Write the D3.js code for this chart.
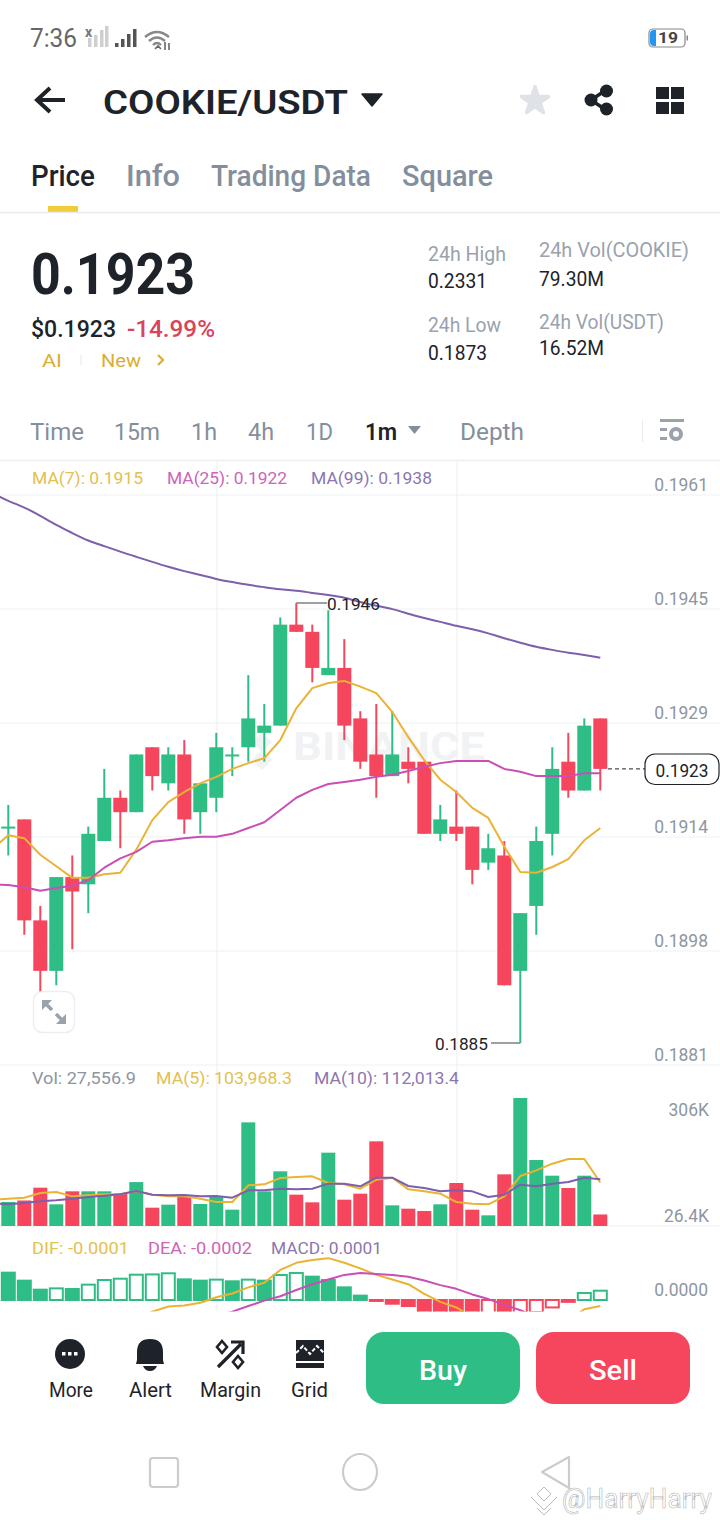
<!DOCTYPE html>
<html>
<head>
<meta charset="utf-8">
<script src="https://cdn.jsdelivr.net/npm/d3@7"></script>
<style>
  html,body{margin:0;padding:0;background:#fff;}
  svg{display:block;}
</style>
</head>
<body>
<div id="app"></div>
<script>
// candles, one minute each, oldest first
const opens  = [.1915,.1916,.1902,.1895,.1908,.1907,.1913,.1919,.1917,.1926,.1921,.1925,.1917,.1919,.1925,.1926,.1928,.1929,.1943,.1942,.1936,.1937,.1930,.1925,.1922,.1924,.1924,.1914,.1915,.1915,.1910,.1911,.1895,.1904,.1914,.1924,.1920,.1930];
const highs  = [.1918,.1916,.1904,.1908,.1911,.1915,.1923,.1920,.1925,.1926,.1926,.1927,.1921,.1928,.1926,.1936,.1932,.1944,.1946,.1943,.1945,.1941,.1931,.1932,.1931,.1926,.1924,.1918,.1920,.1915,.1914,.1913,.1903,.1915,.1926,.1928,.1930,.1930];
const lows   = [.1911,.1900,.1892,.1893,.1898,.1903,.1913,.1912,.1917,.1920,.1920,.1914,.1914,.1917,.1922,.1924,.1924,.1929,.1942,.1935,.1936,.1927,.1923,.1919,.1922,.1921,.1914,.1913,.1913,.1907,.1909,.1893,.1885,.1900,.1911,.1919,.1920,.1920];
const closes = [.1915,.1902,.1895,.1908,.1906,.1914,.1919,.1917,.1925,.1922,.1925,.1916,.1921,.1926,.1925,.1930,.1929,.1943,.1942,.1937,.1937,.1929,.1924,.1922,.1925,.1923,.1914,.1916,.1914,.1909,.1912,.1893,.1903,.1913,.1923,.1920,.1929,.1923];

// moving averages start one candle left of the screen
const ma7  = [.19119,.19138,.19134,.19111,.19095,.19079,.19079,.19084,.19086,.19118,.19159,.19184,.19198,.19210,.19219,.19230,.19238,.19245,.19270,.19314,.19342,.19349,.19352,.19344,.19335,.19309,.19274,.19242,.19215,.19198,.19176,.19162,.19122,.19087,.19086,.19094,.19105,.19131,.19148];
const ma25 = [.19070,.19069,.19066,.19061,.19065,.19068,.19076,.19093,.19106,.19115,.19129,.19131,.19134,.19136,.19136,.19140,.19148,.19156,.19173,.19190,.19201,.19209,.19212,.19215,.19219,.19222,.19227,.19233,.19238,.19241,.19241,.19241,.19230,.19226,.19220,.19220,.19220,.19224,.19224];
const ma99 = [.19613,.19601,.19593,.19581,.19568,.19557,.19546,.19539,.19531,.19524,.19517,.19510,.19504,.19499,.19493,.19489,.19485,.19482,.19479,.19477,.19474,.19471,.19468,.19461,.19456,.19452,.19445,.19439,.19434,.19428,.19424,.19418,.19411,.19405,.19399,.19395,.19391,.19388,.19384];

const volumes = [57400,61000,91600,51800,82900,82900,82900,77300,105000,43800,51000,69300,52600,69300,39000,247800,82900,130700,74900,56600,175300,62900,77300,202400,49400,41400,35900,51800,102800,39000,25500,123500,306000,157700,120300,90800,120300,27556.9];
const volMa5  = [63700,65300,67700,78900,81300,70900,73300,75700,75700,83700,74900,70900,70900,65300,57400,57400,97200,99600,114700,117100,118700,102800,99600,89200,110700,115500,87600,82900,77300,57400,53400,51800,70900,119500,133000,149000,160100,160100,103968.3];
const volMa10 = [53400,51800,55000,59000,61300,65300,69300,72500,75700,83700,74900,73300,74100,70900,71700,67700,85200,85200,89200,87600,89200,101200,101200,94800,115500,115500,95600,90800,82900,85200,82900,69300,74900,98800,94800,101200,105200,115500,112013.4];

const macd = [.000294,.000208,.000111,.000125,.000118,.000165,.000215,.000229,.000272,.000275,.000287,.000222,.000208,.000219,.000201,.000219,.000208,.000269,.00029,.000251,.000215,.000136,.000047,-.00001,-.00004,-.000065,-.00014,-.00018,-.0002,-.00021,-.00019,-.00022,-.00017,-.00013,-.00008,-.00002,.000075,.0001];
const dif  = [-.0005,-.00048,-.00048,-.00044,-.00042,-.00036,-.0003,-.00026,-.0002,-.000125,-.00007,-.00006,-.00003,.00003,.00007,.000136,.000186,.000323,.0004,.00043,.00045,.0004,.00034,.00027,.00022,.00017,.000065,-.00002,-.00008,-.00018,-.00028,-.00042,-.0005,-.00045,-.00038,-.00022,-.0001,-.000065];
const dea  = [-.00045,-.00044,-.00043,-.00042,-.0004,-.00038,-.00036,-.00034,-.00032,-.0003,-.00028,-.00026,-.00022,-.00018,-.000125,-.000065,-.000007,.00004,.000108,.00017,.00022,.00027,.00029,.00028,.00027,.00025,.00021,.00016,.00012,.00006,.00001,-.00005,-.00011,-.00018,-.00022,-.00024,-.00022,-.0002];

const priceTicks = ['0.1961','0.1945','0.1929','0.1914','0.1898','0.1881'];
const volTicks = ['306K','26.4K'];
const macdTicks = [0];
const lastPrice = 0.1923, highPrice = 0.1946, lowPrice = 0.1885;

const GREEN='#2EBD85', RED='#F6465D', DARK='#1E2329', GRAY='#848E9C';
const YELLOW='#EAB334', PINK='#C94FB5', PURPLE='#7D5FAB';
const GRID='#EFF1F3';
const FONT='Roboto, sans-serif';

const svg = d3.select('#app').append('svg').attr('width',720).attr('height',1520).attr('viewBox','0 0 720 1520').style('background','#fff');

const x = d3.scaleLinear().domain([0,37]).range([8.3,600.3]);
const y = d3.scaleLinear().domain([lowPrice,highPrice]).range([1043,603]);
const gridY = d3.scalePoint().domain(priceTicks).range([495,1065]);
const volY = d3.scaleLinear().domain([0,306000]).range([1226,1098]);
const volTickY = d3.scalePoint().domain(volTicks).range([1110,1216]);
const macdY = d3.scaleLinear().domain([0,.0001]).range([1300,1290.7]);

const defs = svg.append('defs');
defs.append('clipPath').attr('id','clip-main').append('rect').attr('x',0).attr('y',461).attr('width',720).attr('height',604);
defs.append('clipPath').attr('id','clip-macd').append('rect').attr('x',0).attr('y',1226).attr('width',720).attr('height',85.5);

function label(px,py,str,color,size,width,weight,anchor){
  const t = svg.append('text').attr('x',px).attr('y',py)
    .attr('dominant-baseline','central')
    .attr('fill',color).attr('font-family',FONT)
    .attr('font-size',size).attr('font-weight',weight||400)
    .attr('text-anchor',anchor||'start').text(str);
  if(width) t.attr('textLength',width).attr('lengthAdjust','spacingAndGlyphs');
  return t;
}

/* ---- status bar ---- */
label(30,38,'7:36','#666',25,47);
label(85,32,'x','#777',14,null,700);
[[89,9],[95,12],[101,17],[106,21]].forEach(b=>{
  svg.append('rect').attr('x',b[0]-1).attr('y',47-b[1]).attr('width',3.5).attr('height',b[1]).attr('fill','#cfcfcf');
});
[[115,4],[121,8],[127,13],[133,18]].forEach(b=>{
  svg.append('rect').attr('x',b[0]).attr('y',47-b[1]).attr('width',3.5).attr('height',b[1]).attr('fill','#555');
});
svg.append('path').attr('d','M145 37 Q157 27 169 37 M149 41 Q157 34 165 41 M153 45 Q157 41 161 45')
  .attr('fill','none').attr('stroke','#888').attr('stroke-width',2.4);
svg.append('path').attr('d','M155 49 L158 46 L161 49 M165 42 V50 M169 43 V50').attr('fill','none').attr('stroke','#666').attr('stroke-width',1.6);
svg.append('rect').attr('x',649).attr('y',29).attr('width',36).attr('height',18).attr('rx',4).attr('fill','#fff').attr('stroke','#888').attr('stroke-width',1.2);
svg.append('path').attr('d','M654 30 H656 V46 H654 Q650 46 650 42 V34 Q650 30 654 30 Z').attr('fill','#2196F3');
svg.append('rect').attr('x',686.5).attr('y',35.5).attr('width',1.5).attr('height',5).attr('fill','#888');
label(658,38,'19','#444',15,20,700);

/* ---- header ---- */
svg.append('path').attr('d','M65 100 H38 M50 88 L37 100 L50 112').attr('fill','none').attr('stroke',DARK).attr('stroke-width',4);
label(103,102,'COOKIE/USDT',DARK,34,245,600);
svg.append('path').attr('d','M362 94 H382 L372 106 Z').attr('fill',DARK).attr('stroke',DARK).attr('stroke-linejoin','round').attr('stroke-width',1.5);
svg.append('path').attr('transform','translate(535,101)').attr('d',d3.symbol().type(d3.symbolStar).size(230)()).attr('fill','#DFE2E6').attr('stroke','#DFE2E6').attr('stroke-width',3.5).attr('stroke-linejoin','round');
svg.append('path').attr('d','M606 90 L591 100 L606 110').attr('fill','none').attr('stroke',DARK).attr('stroke-width',3.5);
[[606.5,91,6.5],[591,100,6.5],[606.5,109,6.5]].forEach(c=>svg.append('circle').attr('cx',c[0]).attr('cy',c[1]).attr('r',c[2]).attr('fill',DARK));
[[656,87],[671,87],[656,102],[671,102]].forEach(c=>svg.append('rect').attr('x',c[0]).attr('y',c[1]).attr('width',13).attr('height',12).attr('fill',DARK));

/* ---- tabs ---- */
label(31,176,'Price',DARK,29,64,500);
label(126,176,'Info',GRAY,29,54,500);
label(211,176,'Trading Data',GRAY,29,160,500);
label(402,176,'Square',GRAY,29,91,500);
svg.append('rect').attr('x',48).attr('y',206).attr('width',30).attr('height',6).attr('fill','#F0CB3A');
svg.append('line').attr('x1',0).attr('x2',720).attr('y1',212.5).attr('y2',212.5).attr('stroke','#E9EBEE').attr('stroke-width',1.5);

/* ---- price summary ---- */
label(31,274,'0.1923',DARK,58,164,700);
label(31,329,'$0.1923',DARK,23,85,500);
label(127,329,'-14.99%','#D9445B',23,88,500);
label(42,360,'AI','#D9AE33',19,20);
svg.append('line').attr('x1',81).attr('x2',81).attr('y1',355).attr('y2',365).attr('stroke','#E6E8EA').attr('stroke-width',1);
label(101,360,'New','#D9AE33',19,40);
svg.append('path').attr('d','M158 355 L163 360 L158 365').attr('fill','none').attr('stroke','#D9AE33').attr('stroke-width',2.2);

label(428,254,'24h High','#9AA2AD',20,78);
label(428,281,'0.2331',DARK,20,59);
label(428,325,'24h Low','#9AA2AD',20,73);
label(428,353,'0.1873',DARK,20,59);
label(539,250,'24h Vol(COOKIE)','#9AA2AD',20,150);
label(539,279,'79.30M',DARK,20,65);
label(539,322,'24h Vol(USDT)','#9AA2AD',20,125);
label(539,348,'16.52M',DARK,20,65);

/* ---- interval row ---- */
label(30,432,'Time',GRAY,24,54);
label(114,432,'15m',GRAY,24,46);
label(191,432,'1h',GRAY,24,26);
label(248,432,'4h',GRAY,24,26);
label(306,432,'1D',GRAY,24,27);
label(365,432,'1m',DARK,24,32,600);
svg.append('path').attr('d','M408 426 H421 L414.5 434 Z').attr('fill',GRAY);
label(460,432,'Depth',GRAY,24,64);
svg.append('line').attr('x1',642.5).attr('x2',642.5).attr('y1',420).attr('y2',442).attr('stroke','#E9EBEE');
svg.append('rect').attr('x',660).attr('y',419).attr('width',24).attr('height',3).attr('fill','#9AA2AD');
svg.append('rect').attr('x',660).attr('y',428).attr('width',7).attr('height',3).attr('fill','#9AA2AD');
svg.append('rect').attr('x',660).attr('y',437).attr('width',7).attr('height',3).attr('fill','#9AA2AD');
svg.append('circle').attr('cx',676).attr('cy',434).attr('r',5).attr('fill','none').attr('stroke','#9AA2AD').attr('stroke-width',4);

/* ---- grid ---- */
svg.append('line').attr('x1',0).attr('x2',720).attr('y1',460.5).attr('y2',460.5).attr('stroke','#EDEFF1').attr('stroke-width',1.5);
svg.append('g').selectAll('line').data(priceTicks).join('line')
  .attr('x1',0).attr('x2',720).attr('y1',d=>gridY(d)).attr('y2',d=>gridY(d)).attr('stroke',GRID).attr('stroke-width',1.2);
svg.append('line').attr('x1',0).attr('x2',720).attr('y1',1226).attr('y2',1226).attr('stroke',GRID).attr('stroke-width',1.2);
svg.append('g').selectAll('line').data([217,457]).join('line')
  .attr('x1',d=>d).attr('x2',d=>d).attr('y1',461).attr('y2',1311).attr('stroke',GRID).attr('stroke-width',1.2);

/* watermark */
svg.append('path').attr('d','M262 732 L272 742 L262 752 L252 742 Z M262 750 L272 760 L262 770 L252 760 Z').attr('fill','#F1F2F4');
label(293,747,'BINANCE','#F1F2F4',38,192,700);

/* ---- main panel ---- */
svg.append('g').call(d3.axisLeft(gridY).tickSize(0).tickPadding(0))
  .attr('transform','translate(708,-10)')
  .call(g=>g.select('.domain').remove())
  .call(g=>g.selectAll('text').attr('fill','#8F96A1').attr('font-family',FONT).attr('font-size',17.5));

const main = svg.append('g').attr('clip-path','url(#clip-main)');
const idx = d3.range(opens.length);
const candle = main.selectAll('g.candle').data(idx).join('g').attr('class','candle')
  .attr('fill',i=>closes[i]>=opens[i]?GREEN:RED);
candle.append('rect')
  .attr('x',i=>x(i)-1).attr('width',2)
  .attr('y',i=>y(highs[i])).attr('height',i=>y(lows[i])-y(highs[i]));
candle.append('rect')
  .attr('x',i=>x(i)-7).attr('width',14)
  .attr('y',i=>y(Math.max(opens[i],closes[i])))
  .attr('height',i=>Math.max(2,y(Math.min(opens[i],closes[i]))-y(Math.max(opens[i],closes[i]))));

const priceLine = d3.line().x((d,i)=>x(i-1)).y(d=>y(d));
[[ma99,PURPLE,d3.curveBasis],[ma7,YELLOW,d3.curveLinear],[ma25,PINK,d3.curveLinear]].forEach(s=>{
  main.append('path').attr('d',priceLine.curve(s[2])(s[0])).attr('fill','none').attr('stroke',s[1]).attr('stroke-width',2).attr('stroke-linejoin','round');
});

label(32,478,'MA(7): 0.1915','#E3C04F',17,111);
label(167,478,'MA(25): 0.1922','#CE63B8',17,120);
label(311,478,'MA(99): 0.1938','#8C76B0',17,121);

// high and low callouts
svg.append('line').attr('x1',x(18)).attr('x2',327).attr('y1',y(highPrice)).attr('y2',y(highPrice)).attr('stroke','#777').attr('stroke-width',1.4);
label(327,604,String(highPrice),DARK,17,53);
svg.append('line').attr('x1',491).attr('x2',x(32)).attr('y1',y(lowPrice)).attr('y2',y(lowPrice)).attr('stroke','#777').attr('stroke-width',1.4);
label(435,1044,String(lowPrice),DARK,17,53);

// last price tag
svg.append('line').attr('x1',608).attr('x2',645).attr('y1',y(lastPrice)).attr('y2',y(lastPrice)).attr('stroke',DARK).attr('stroke-width',1).attr('stroke-dasharray','4 3');
svg.append('rect').attr('x',645).attr('y',754).attr('width',74).attr('height',30.5).attr('rx',10).attr('fill','#fff').attr('stroke',DARK).attr('stroke-width',1.2);
label(682,771,String(lastPrice),DARK,17.5,53,400,'middle');

// expand button
svg.append('rect').attr('x',33.5).attr('y',991.5).attr('width',41).attr('height',41).attr('rx',9).attr('fill','#fff').attr('stroke','#ECEEF0').attr('stroke-width',1.5);
svg.append('path').attr('d','M42 1000 H52 L42 1010 Z M66 1024 H56 L66 1014 Z').attr('fill','#9AA2AD');
svg.append('path').attr('d','M45 1003 L52 1010 M63 1021 L56 1014').attr('fill','none').attr('stroke','#9AA2AD').attr('stroke-width',3.5);

/* ---- volume panel ---- */
label(32,1078,'Vol: 27,556.9','#8D95A1',17,104);
label(156,1078,'MA(5): 103,968.3','#E3C04F',17,136);
label(314,1078,'MA(10): 112,013.4','#8C76B0',17,145);

svg.append('g').selectAll('rect').data(volumes).join('rect')
  .attr('x',(d,i)=>x(i)-7).attr('width',14)
  .attr('y',d=>volY(d)).attr('height',d=>volY(0)-volY(d))
  .attr('fill',(d,i)=>closes[i]>=opens[i]?GREEN:RED);

const volLine = d3.line().x((d,i)=>Math.max(0,x(i-1))).y(d=>volY(d));
[[volMa5,YELLOW],[volMa10,PURPLE]].forEach(s=>{
  svg.append('path').attr('d',volLine(s[0])).attr('fill','none').attr('stroke',s[1]).attr('stroke-width',2).attr('stroke-linejoin','round');
});

svg.append('g').call(d3.axisLeft(volTickY).tickSize(0).tickPadding(0))
  .attr('transform','translate(709,0)')
  .call(g=>g.select('.domain').remove())
  .call(g=>g.selectAll('text').attr('fill','#8F96A1').attr('font-family',FONT).attr('font-size',17.5));

/* ---- macd panel ---- */
label(32,1248,'DIF: -0.0001','#E3C04F',17,97);
label(148,1248,'DEA: -0.0002','#CE63B8',17,104);
label(271,1248,'MACD: 0.0001','#8C76B0',17,111);

const mPanel = svg.append('g').attr('clip-path','url(#clip-macd)');
mPanel.selectAll('rect').data(macd).join('rect')
  .attr('x',(d,i)=>x(i)-6.5).attr('width',13)
  .attr('y',d=>Math.min(macdY(d),macdY(0)))
  .attr('height',d=>Math.abs(macdY(d)-macdY(0)))
  // bars that grow on the previous one stay hollow
  .attr('fill',(d,i)=>{
    const rising = i>0 && d>macd[i-1];
    if(rising) return '#fff';
    return d>=0?GREEN:RED;
  })
  .attr('stroke',d=>d>=0?GREEN:RED).attr('stroke-width',2);

const macdLine = d3.line().x((d,i)=>x(i)).y(d=>macdY(d));
[[dif,YELLOW],[dea,PINK]].forEach(s=>{
  mPanel.append('path').attr('d',macdLine(s[0])).attr('fill','none').attr('stroke',s[1]).attr('stroke-width',2).attr('stroke-linejoin','round');
});

svg.append('g').call(d3.axisLeft(macdY).tickValues(macdTicks).tickFormat(d3.format('.4f')).tickSize(0).tickPadding(0))
  .attr('transform','translate(708,-10)')
  .call(g=>g.select('.domain').remove())
  .call(g=>g.selectAll('text').attr('fill','#8F96A1').attr('font-family',FONT).attr('font-size',17.5));

/* ---- bottom bar ---- */
svg.append('circle').attr('cx',70).attr('cy',1354).attr('r',15).attr('fill',DARK);
[63,69,75].forEach(c=>svg.append('rect').attr('x',c-1).attr('y',1352).attr('width',3.5).attr('height',3.5).attr('fill','#fff'));
svg.append('path').attr('d','M137 1360 V1352 Q137 1339 150 1339 Q163 1339 163 1352 V1360 L164 1364 H136 Z M143 1366 H157 Q155 1371 150 1371 Q145 1371 143 1366 Z').attr('fill',DARK);
svg.append('path').attr('d','M218 1367 L241 1344 M231 1342 H243 V1354').attr('fill','none').attr('stroke',DARK).attr('stroke-width',3.2);
svg.append('path').attr('d','M222 1341 L227 1347 L222 1353 L217 1347 Z M238 1356 L243 1362 L238 1368 L233 1362 Z').attr('fill','none').attr('stroke',DARK).attr('stroke-width',2.6);
svg.append('path').attr('d','M296 1340 H324 V1361 H296 Z').attr('fill',DARK);
svg.append('path').attr('d','M296 1353 L303 1346 L310 1354 L317 1346 L324 1353').attr('fill','none').attr('stroke','#fff').attr('stroke-width',2).attr('stroke-dasharray','4 2');
svg.append('rect').attr('x',296).attr('y',1363).attr('width',28).attr('height',5).attr('fill',DARK);
label(49,1390,'More',DARK,20,44);
label(129,1390,'Alert',DARK,20,43);
label(200,1390,'Margin',DARK,20,61);
label(291,1390,'Grid',DARK,20,37);

svg.append('rect').attr('x',366).attr('y',1332).attr('width',154).attr('height',72).attr('rx',18).attr('fill',GREEN);
svg.append('rect').attr('x',536).attr('y',1332).attr('width',154).attr('height',72).attr('rx',18).attr('fill',RED);
label(443,1370,'Buy','#fff',28,48,500,'middle');
label(613,1370,'Sell','#fff',28,48,500,'middle');

/* ---- nav bar and stamp ---- */
svg.append('rect').attr('x',150).attr('y',1458).attr('width',28).attr('height',29).attr('rx',3).attr('fill','none').attr('stroke','#CCC').attr('stroke-width',2.2);
svg.append('ellipse').attr('cx',360).attr('cy',1472).attr('rx',17).attr('ry',18).attr('fill','none').attr('stroke','#CCC').attr('stroke-width',2.2);
svg.append('path').attr('d','M569 1457 L542 1472 L569 1488 Z').attr('fill','none').attr('stroke','#CCC').attr('stroke-width',2.2).attr('stroke-linejoin','round');
svg.append('path').attr('d','M544 1487 L551 1494 L544 1501 L537 1494 Z M531 1497 L537 1503 L544 1510 L551 1503 L557 1497 M537 1508 L544 1515 L551 1508').attr('fill','#fff').attr('stroke','#BBB').attr('stroke-width',1);
label(562,1499,'@HarryHarry','#fff',27,150).attr('stroke','#B5B5B5').attr('stroke-width',0.6);
</script>
</body>
</html>
